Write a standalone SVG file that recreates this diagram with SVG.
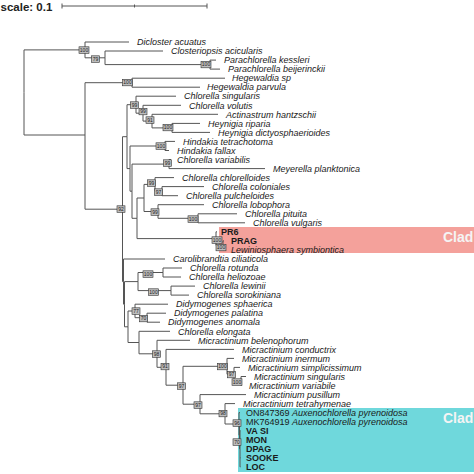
<svg xmlns="http://www.w3.org/2000/svg" width="474" height="474" viewBox="0 0 474 474">
<style>
.ln{stroke:#555;stroke-width:1;fill:none}
.tip{font-family:"Liberation Sans",Arial,sans-serif;font-size:9px;font-style:italic;fill:#1a1a1a}
.b{font-weight:bold;font-style:normal}
.n{font-style:normal}
.bx rect{fill:#bdbdbd;stroke:#333;stroke-width:0.6}
.bx text{font-family:"Liberation Sans",Arial,sans-serif;font-size:5px;fill:#222;text-anchor:middle}
.clade{font-family:"Liberation Sans",Arial,sans-serif;font-size:14px;font-weight:bold;fill:#f4f4f4}
</style>
<g id="highlights">
<rect x="219" y="227" width="255" height="26" fill="#f4a19b"/>
<text class="clade" x="443" y="242">Clad</text>
<rect x="238" y="408" width="236" height="64" fill="#6fd8dc"/>
<text class="clade" x="443" y="423">Clad</text>
</g>
<g id="scale">
<text x="0.5" y="11" font-family="Liberation Sans,Arial,sans-serif" font-size="11.5" font-weight="bold" fill="#222">scale: 0.1</text>
<path class="ln" d="M62 6H207M62 3.5V8.5M134.5 4.5V7.5M207 3.5V8.5"/>
</g>
<g id="connectors" class="ln">
<path d="M24 92.5V49.9H85M24 92.5V135H85"/>
<path d="M85 49.9V42H129M85 49.9V57.8H105"/>
<path d="M105 57.8V51H163M105 57.8V64.6H210"/>
<path d="M210 64.6V60.1H216M210 64.6V69.1H220"/>
<path d="M85 135V82.7H132M85 135V209.2H122.5"/>
<path d="M132 82.7V78.2H225M132 82.7V87.2H200"/>
<path d="M122.5 209.2V136.7H127M122.5 209.2V281.6H123.5"/>
<path d="M127 136.7V104.7H136M127 136.7V168.6H130"/>
<path d="M136 104.7V96.2H176M136 104.7V113.2H143"/>
<path d="M143 113.2V105.3H181M143 113.2V121.1H152"/>
<path d="M152 121.1V114.3H218M152 121.1V127.9H172"/>
<path d="M172 127.9V123.4H200M172 127.9V132.4H210"/>
<path d="M130 168.6V146H165M130 168.6V191.2H132"/>
<path d="M165 146V141.4H175M165 146V150.5H169"/>
<path d="M132 191.2V164.1H169M132 191.2V218.3H137"/>
<path d="M169 164.1V159.5H171M169 164.1V168.6H265"/>
<path d="M137 218.3V198H144M137 218.3V238.6H216"/>
<path d="M144 198V184.4H155M144 198V211.5H158"/>
<path d="M155 184.4V177.6H174M155 184.4V191.2H162"/>
<path d="M162 191.2V186.6H204M162 191.2V195.7H178"/>
<path d="M158 211.5V204.7H204M158 211.5V218.3H198"/>
<path d="M198 218.3V213.8H237M198 218.3V222.8H245"/>
<path d="M216 238.6V231.8H217M216 238.6V245.4H223"/>
<path d="M223 245.4V240.9H224M223 245.4V249.9H224"/>
<path d="M123.5 281.6V259H165M123.5 281.6V304.2H124.5"/>
<path d="M124.5 304.2V281.6H138M124.5 304.2V326.8H128"/>
<path d="M138 281.6V272.5H163M138 281.6V290.6H171"/>
<path d="M163 272.5V268H182M163 272.5V277H181"/>
<path d="M171 290.6V286.1H195M171 290.6V295.1H189"/>
<path d="M128 326.8V311H135M128 326.8V342.5H139"/>
<path d="M135 311V304.2H168M135 311V317.7H147"/>
<path d="M147 317.7V313.2H166M147 317.7V322.2H160"/>
<path d="M139 342.5V331.3H170M139 342.5V353.8H157"/>
<path d="M157 353.8V340.3H190M157 353.8V367.3H166"/>
<path d="M166 367.3V349.4H234M166 367.3V385.2H183"/>
<path d="M183 385.2V366.3H227M183 385.2V404.2H200"/>
<path d="M227 366.3V358.4H234M227 366.3V374.2H234"/>
<path d="M234 374.2V367.4H240M234 374.2V381H241"/>
<path d="M241 381V376.5H246M241 381V385.5H241.5"/>
<path d="M200 404.2V394.6H246M200 404.2V413.8H225"/>
<path d="M225 413.8V403.6H235M225 413.8V424H239"/>
<path d="M239 424V412.6H240M239 424V435.3H239.5"/>
<path d="M239.5 435.3V421.7H240M239.5 435.3V448.8H240"/>
<path d="M240 448.8V430.7H240.5M240 448.8V466.9H240.5M240 439.8H240.5M240 457.8H240.5"/>
</g>
<g id="tips" class="tip">
<text id="t0" x="137" y="45.2">Dicloster acuatus</text>
<text id="t1" x="171" y="54.2">Closteriopsis acicularis</text>
<text id="t2" x="224" y="63.3">Parachlorella kessleri</text>
<text id="t3" x="228" y="72.3">Parachlorella beijerinckii</text>
<text id="t4" x="232" y="81.4">Hegewaldia sp</text>
<text id="t5" x="207" y="90.4">Hegewaldia parvula</text>
<text id="t6" x="184" y="99.4">Chlorella singularis</text>
<text id="t7" x="189" y="108.5">Chlorella volutis</text>
<text id="t8" x="226" y="117.5">Actinastrum hantzschii</text>
<text id="t9" x="208" y="126.6">Heynigia riparia</text>
<text id="t10" x="218" y="135.6">Heynigia dictyosphaerioides</text>
<text id="t11" x="183" y="144.6">Hindakia tetrachotoma</text>
<text id="t12" x="177" y="153.7">Hindakia fallax</text>
<text id="t13" x="177" y="162.7">Chlorella variabilis</text>
<text id="t14" x="273" y="171.8">Meyerella planktonica</text>
<text id="t15" x="182" y="180.8">Chlorella chlorelloides</text>
<text id="t16" x="212" y="189.8">Chlorella coloniales</text>
<text id="t17" x="186" y="198.9">Chlorella pulcheloides</text>
<text id="t18" x="212" y="207.9">Chlorella lobophora</text>
<text id="t19" x="245" y="217">Chlorella pituita</text>
<text id="t20" x="253" y="226">Chlorella vulgaris</text>
<text id="t21" class="b" x="221" y="235">PR6</text>
<text id="t22" class="b" x="231" y="244.1">PRAG</text>
<text id="t23" x="231" y="253.1">Lewiniosphaera symbiontica</text>
<text id="t24" x="173" y="262.2">Carolibrandtia ciliaticola</text>
<text id="t25" x="190" y="271.2">Chlorella rotunda</text>
<text id="t26" x="189" y="280.2">Chlorella heliozoae</text>
<text id="t27" x="203" y="289.3">Chlorella lewinii</text>
<text id="t28" x="197" y="298.3">Chlorella sorokiniana</text>
<text id="t29" x="176" y="307.4">Didymogenes sphaerica</text>
<text id="t30" x="174" y="316.4">Didymogenes palatina</text>
<text id="t31" x="168" y="325.4">Didymogenes anomala</text>
<text id="t32" x="178" y="334.5">Chlorella elongata</text>
<text id="t33" x="198" y="343.5">Micractinium belenophorum</text>
<text id="t34" x="242" y="352.6">Micractinium conductrix</text>
<text id="t35" x="242" y="361.6">Micractinium inermum</text>
<text id="t36" x="248" y="370.6">Micractinium simplicissimum</text>
<text id="t37" x="254" y="379.7">Micractinium singularis</text>
<text id="t38" x="249" y="388.7">Micractinium variabile</text>
<text id="t39" x="254" y="397.8">Micractinium pusillum</text>
<text id="t40" x="243" y="406.8">Micractinium tetrahymenae</text>
<text id="t41" x="246" y="415.8"><tspan class="n">ON847369 </tspan>Auxenochlorella pyrenoidosa</text>
<text id="t42" x="246" y="424.9"><tspan class="n">MK764919 </tspan>Auxenochlorella pyrenoidosa</text>
<text id="t43" class="b" x="246" y="433.9">VA SI</text>
<text id="t44" class="b" x="246" y="443">MON</text>
<text id="t45" class="b" x="246" y="452">DPAG</text>
<text id="t46" class="b" x="246" y="461">SOOKE</text>
<text id="t47" class="b" x="246" y="470.1">LOC</text>
</g>
<g id="nodes" class="bx">
<g id="nA"><rect x="79" y="46.8" width="10" height="6.5"/><text x="84" y="51.8">100</text></g>
<g id="nA2"><rect x="91.5" y="55.8" width="8" height="6.5"/><text x="95.5" y="60.8">79</text></g>
<g id="nPara"><rect x="201" y="61.3" width="10" height="6.5"/><text x="206" y="66.3">100</text></g>
<g id="nHege"><rect x="122.5" y="79.3" width="10" height="6.5"/><text x="127.5" y="84.3">100</text></g>
<g id="nU1"><rect x="130.5" y="101.8" width="8" height="6.5"/><text x="134.5" y="106.8">99</text></g>
<g id="nVol"><rect x="139" y="108.3" width="8" height="6.5"/><text x="143" y="113.3">99</text></g>
<g id="nAct"><rect x="146" y="116.8" width="8" height="6.5"/><text x="150" y="121.8">91</text></g>
<g id="nHeyn"><rect x="163" y="124.3" width="10" height="6.5"/><text x="168" y="129.3">100</text></g>
<g id="nHind"><rect x="156" y="142.8" width="10" height="6.5"/><text x="161" y="147.8">100</text></g>
<g id="nVar"><rect x="163.5" y="159.8" width="8" height="6.5"/><text x="167.5" y="164.8">99</text></g>
<g id="nC"><rect x="117" y="205.8" width="8" height="6.5"/><text x="121" y="210.8">92</text></g>
<g id="nChl"><rect x="147.5" y="179.8" width="8" height="6.5"/><text x="151.5" y="184.8">99</text></g>
<g id="nCol"><rect x="154.5" y="188.8" width="8" height="6.5"/><text x="158.5" y="193.8">97</text></g>
<g id="nLob"><rect x="151" y="208.8" width="8" height="6.5"/><text x="155" y="213.8">99</text></g>
<g id="nPitVul"><rect x="188" y="215.8" width="10" height="6.5"/><text x="193" y="220.8">100</text></g>
<g id="nPR6"><rect x="212" y="236.8" width="10" height="6.5"/><text x="217" y="241.8">100</text></g>
<g id="nPRAG"><rect x="216" y="244.3" width="10" height="6.5"/><text x="221" y="249.3">100</text></g>
<g id="nRotHel"><rect x="143" y="270.8" width="10" height="6.5"/><text x="148" y="275.8">100</text></g>
<g id="nLewSor"><rect x="148.5" y="288.8" width="10" height="6.5"/><text x="153.5" y="293.8">100</text></g>
<g id="nDidy"><rect x="132" y="307.8" width="8" height="6.5"/><text x="136" y="312.8">77</text></g>
<g id="nPalAno"><rect x="139.5" y="315.3" width="8" height="6.5"/><text x="143.5" y="320.3">70</text></g>
<g id="nM1"><rect x="152.5" y="350.8" width="8" height="6.5"/><text x="156.5" y="355.8">98</text></g>
<g id="nM2"><rect x="161" y="363.3" width="8" height="6.5"/><text x="165" y="368.3">91</text></g>
<g id="nM3"><rect x="177.5" y="382.8" width="8" height="6.5"/><text x="181.5" y="387.8">97</text></g>
<g id="nM4"><rect x="217.5" y="363.3" width="10" height="6.5"/><text x="222.5" y="368.3">100</text></g>
<g id="nM5"><rect x="227.5" y="371.3" width="8" height="6.5"/><text x="231.5" y="376.3">97</text></g>
<g id="nM6"><rect x="232" y="378.8" width="10" height="6.5"/><text x="237" y="383.8">100</text></g>
<g id="nP1"><rect x="194" y="401.8" width="8" height="6.5"/><text x="198" y="406.8">97</text></g>
<g id="nP2"><rect x="219" y="410.3" width="8" height="6.5"/><text x="223" y="415.3">98</text></g>
<g id="nD"><rect x="233" y="419.8" width="8" height="6.5"/><text x="237" y="424.8">96</text></g>
<g id="nF"><rect x="233" y="438.8" width="8" height="6.5"/><text x="237" y="443.8">70</text></g>
</g>
</svg>
